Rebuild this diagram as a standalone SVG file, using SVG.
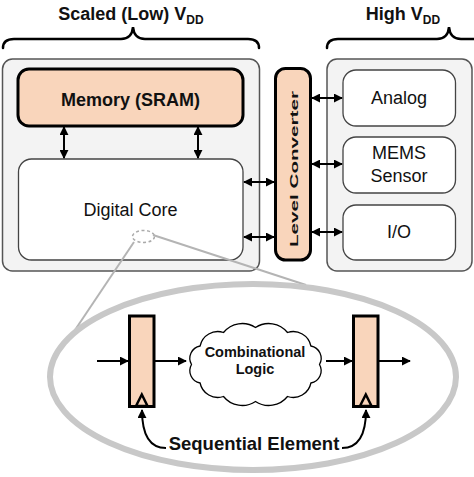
<svg xmlns="http://www.w3.org/2000/svg" width="474" height="477" viewBox="0 0 474 477">
<defs>
<style>
.t{font-family:"Liberation Sans",Arial,sans-serif;fill:#111}
.b{font-weight:bold}
.panel{fill:#f3f3f3;stroke:#555;stroke-width:1.5}
.box{fill:#fff;stroke:#444;stroke-width:1.3}
.peach{fill:#f9d5bb;stroke:#000;stroke-width:3}
.arr{stroke:#000;stroke-width:2;fill:none;marker-start:url(#ah);marker-end:url(#ah)}
.one{stroke:#000;stroke-width:2;fill:none;marker-end:url(#ah)}
.brace{fill:none;stroke:#000;stroke-width:2.5;stroke-linecap:round}
.zoom{stroke:#b4b4b4;stroke-width:2;fill:none}
</style>
<marker id="ah" viewBox="0 0 10 10" refX="9" refY="5" markerWidth="4.5" markerHeight="4.5" orient="auto-start-reverse" markerUnits="strokeWidth">
<path d="M0,0 L10,5 L0,10 z" fill="#000"/>
</marker>
</defs>
<rect width="474" height="477" fill="#fff"/>

<g id="labels">
<text class="t b" x="131" y="20" font-size="18" text-anchor="middle">Scaled (Low) V<tspan font-size="12" dy="4">DD</tspan></text>
<text class="t b" x="403" y="20" font-size="18" text-anchor="middle">High V<tspan font-size="12" dy="4">DD</tspan></text>
<path class="brace" d="M3,48 Q3,39 14,39 L121,39 Q132,39 133,27 Q134,39 145,39 L248,39 Q259,39 259,48"/>
<path class="brace" d="M327,48 Q327,39 338,39 L437,39 Q448,39 449,27 Q450,39 461,39 L560,39"/>
</g>

<g id="low-panel"><rect class="panel" x="2.5" y="59" width="257" height="212" rx="10"/></g>
<g id="high-panel"><rect class="panel" x="327" y="59" width="145" height="212" rx="10"/></g>

<g id="memory">
<rect class="peach" x="18" y="69" width="225" height="57" rx="11"/>
<text class="t b" x="130.5" y="106" font-size="18" text-anchor="middle">Memory (SRAM)</text>
</g>
<g id="digital-core">
<rect class="box" x="18.5" y="159" width="224.5" height="101" rx="13"/>
<text class="t" x="130.5" y="216" font-size="18" text-anchor="middle">Digital Core</text>
</g>
<g id="level-converter">
<rect class="peach" x="275.5" y="68.5" width="35" height="191.5" rx="10"/>
<text class="t" font-size="10.5" font-weight="900" transform="translate(298,169) rotate(-90)" text-anchor="middle" textLength="156" lengthAdjust="spacingAndGlyphs">Level Converter</text>
</g>
<g id="analog">
<rect class="box" x="343" y="70" width="112.5" height="56" rx="13"/>
<text class="t" x="399" y="104" font-size="18" text-anchor="middle">Analog</text>
</g>
<g id="mems">
<rect class="box" x="343" y="137" width="112.5" height="56" rx="13"/>
<text class="t" x="399" y="159" font-size="18" text-anchor="middle">MEMS</text>
<text class="t" x="399" y="182" font-size="18" text-anchor="middle">Sensor</text>
</g>
<g id="io">
<rect class="box" x="343" y="205" width="112.5" height="55" rx="13"/>
<text class="t" x="399" y="238" font-size="18" text-anchor="middle">I/O</text>
</g>

<g id="zoom-callout">
<ellipse cx="143.5" cy="236.5" rx="11" ry="6" fill="none" stroke="#aaa" stroke-width="1.5" stroke-dasharray="3,2.5"/>
<line class="zoom" x1="134" y1="242" x2="75" y2="330"/>
<line class="zoom" x1="153" y1="235" x2="306" y2="285"/>
<ellipse cx="253" cy="377" rx="203" ry="93" fill="none" stroke="#c8c8c8" stroke-width="6"/>
</g>

<g id="connectors">
<line class="arr" x1="64" y1="127" x2="64" y2="158"/>
<line class="arr" x1="198" y1="127" x2="198" y2="158"/>
<line class="arr" x1="244" y1="182" x2="274" y2="182"/>
<line class="arr" x1="244" y1="237" x2="274" y2="237"/>
<line class="arr" x1="312" y1="98" x2="342" y2="98"/>
<line class="arr" x1="312" y1="164" x2="342" y2="164"/>
<line class="arr" x1="312" y1="232" x2="342" y2="232"/>
<line class="one" x1="97" y1="361" x2="128" y2="361"/>
<line class="one" x1="155" y1="361" x2="186" y2="361"/>
<line class="one" x1="326" y1="361" x2="352" y2="361"/>
<line class="one" x1="379" y1="361" x2="410" y2="361"/>
<path class="one" d="M166,448 C152,448 142,438 142,410"/>
<path class="one" d="M342,448 C356,448 366,438 366,410"/>
</g>

<g id="register-1">
<rect class="peach" x="129.5" y="316" width="24.5" height="90.5"/>
<polygon points="136,406 141.8,394.5 147.5,406" fill="#f9d5bb" stroke="#000" stroke-width="2.5"/>
</g>
<g id="register-2">
<rect class="peach" x="353.5" y="316" width="24.5" height="90.5"/>
<polygon points="360,406 365.8,394.5 371.5,406" fill="#f9d5bb" stroke="#000" stroke-width="2.5"/>
</g>

<g id="combinational-logic">
<path fill="#fff" stroke="#000" stroke-width="1.3" d="M191.5,364.5 A12.5,12.5 0 0 1 200.1,346 A18,18 0 0 1 223.5,332.5 A24,24 0 0 1 255.5,327.5 A24,24 0 0 1 287.5,332.5 A18,18 0 0 1 310.9,346 A12.5,12.5 0 0 1 319.5,364.5 A12.5,12.5 0 0 1 310.9,383 A18,18 0 0 1 287.5,396.5 A24,24 0 0 1 255.5,401.5 A24,24 0 0 1 223.5,396.5 A18,18 0 0 1 200.1,383 A12.5,12.5 0 0 1 191.5,364.5 Z"/>
<text class="t b" x="255" y="357" font-size="14.5" text-anchor="middle">Combinational</text>
<text class="t b" x="255" y="374" font-size="14.5" text-anchor="middle">Logic</text>
</g>

<g id="sequential-label">
<text class="t b" x="254" y="450" font-size="18.5" text-anchor="middle">Sequential Element</text>
</g>
</svg>
